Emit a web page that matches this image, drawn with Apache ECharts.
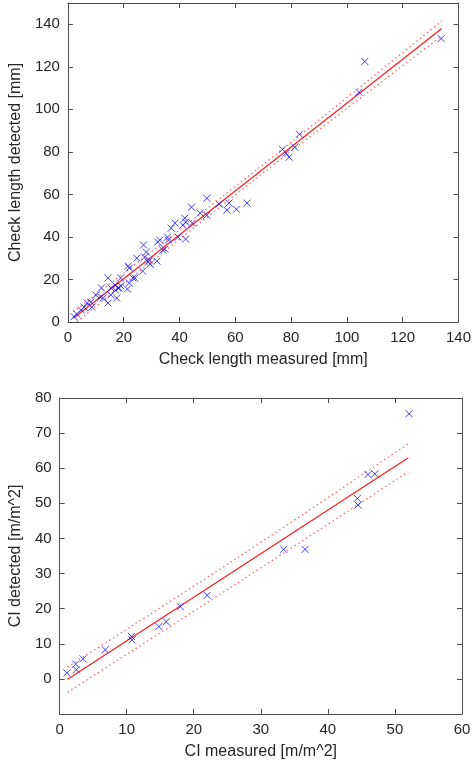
<!DOCTYPE html>
<html><head><meta charset="utf-8">
<script src="https://cdn.jsdelivr.net/npm/echarts@6/dist/echarts.min.js"></script>
<style>html,body{margin:0;padding:0;background:#fff}#c{width:474px;height:764px}</style>
</head><body><div id="c"></div>
<script>
// Top plot: check length
const checkMeasured = [133.8,106.4,104.3,83,81.3,76.9,78.2,79.3,64.2,60.4,57,57.7,54.2,49.8,49.8,47.4,44.3,44.6,42.2,41.9,42.2,41.2,39.5,38.4,37,35.7,36,34.7,34,32.9,32.2,31.9,29.5,29.2,28.8,28.1,27.5,27.1,26.8,24.7,24,23.3,22,21.6,21.3,22,18.9,18.2,17.5,15.4,14.4,14.4,12.7,12,11.7,10,8.6,8.2,6.9,5.8,4.8,3.1,18,19,17,15.4,16.8,2.2];
const checkDetected = [133.3,122.5,108,88.3,82.2,81.2,79.4,77.5,55.9,53,52.6,55.9,55.4,58.2,50.2,51.2,54,46.5,39,48.8,47,45.5,39.9,46.5,44.1,39.9,38.5,34.3,33.8,38.5,37.6,28.6,27.2,29.1,28.2,32.9,30.5,36.2,23.9,30,20.7,20.7,18.3,26.3,15.5,25.4,20.7,16,11.3,12.7,20.7,8.9,11.3,16,11.7,12.7,7,9.4,8.9,7,5.6,3.8,16,17,15,16,17.4,2.5];
const checkFitX = [2,134];
const checkFitY = [1.8,138];
const checkBandX = [2,68,134];
const checkUpper = [4.8,72,141.5];
const checkLower = [-1.2,68,134.5];
// Bottom plot: CI
const ciMeasured = [1.1,2.4,2.5,3.5,6.8,10.7,10.8,14.8,15.9,18.0,22.0,33.4,36.6,44.4,44.5,46.0,47.0,52.1];
const ciDetected = [1.7,4.2,2.6,5.7,8.3,12.1,11.1,14.9,16.3,20.6,23.8,36.9,36.9,51.4,49.5,58.2,58.4,75.5];
const ciFitX = [1.2,52];
const ciFitY = [-0.1,63];
const ciBandX = [1.2,26.6,52];
const ciUpper = [3.4,34.6,67];
const ciLower = [-3.8,27.4,59];

const zip=(a,b)=>a.map((v,i)=>[v,b[i]]);
const font='Liberation Sans, Arial, sans-serif';
const lab={color:'#262626',fontSize:15,fontFamily:font};
const cross='path://M0,0L10,10M10,0L0,10';
function axes(gi,min,max,interval,name,isX,hideFirst){
  const base={gridIndex:gi,type:'value',min,max,interval,
    axisLine:{show:true,onZero:false,lineStyle:{color:'#4d4d4d'}},
    axisTick:{inside:true,length:5,lineStyle:{color:'#4d4d4d'}},
    splitLine:{show:false}};
  const main=Object.assign({},base,{name,nameLocation:'middle',nameGap:isX?30:34,
    nameTextStyle:{color:'#262626',fontSize:16,fontFamily:font},
    axisLabel:Object.assign({},lab,{showMaxLabel:!(max%interval),margin:8,
      formatter:v=>(hideFirst&&v===min)?'':String(v)})});
  const mirror=Object.assign({},base,{position:isX?'top':'right',axisLabel:{show:false}});
  return [main,mirror];
}
const xa=[...axes(0,0,140,20,'Check length measured [mm]',true),...axes(1,0,60,10,'CI measured [m/m^2]',true)];
const ya=[...axes(0,0,150,20,'Check length detected [mm]',false),...axes(1,-10,80,10,'CI detected [m/m^2]',false,true)];
ya[0].axisLabel.showMaxLabel=false;
function sc(xi,yi,d){return {type:'scatter',xAxisIndex:xi,yAxisIndex:yi,data:d,symbol:cross,symbolSize:7,
  itemStyle:{color:'rgba(0,0,0,0)',borderColor:'#1010ff',borderWidth:1},silent:true,z:3};}
function ln(xi,yi,d,dotted,smooth){return {type:'line',xAxisIndex:xi,yAxisIndex:yi,data:d,showSymbol:false,smooth:smooth?0.4:false,
  lineStyle:{color:dotted?'#ff6060':'#ff2020',width:dotted?1.2:1.3,type:dotted?[1.5,3]:'solid'},silent:true,z:2};}
const chart=echarts.init(document.getElementById('c'));
chart.setOption({
  animation:false,
  grid:[{left:53,right:13,top:3,height:319},{left:54,right:12,top:398,height:316}],
  xAxis:xa,yAxis:ya,
  series:[
    ln(0,0,zip(checkFitX,checkFitY)),
    ln(0,0,zip(checkBandX,checkUpper),true,true),
    ln(0,0,zip(checkBandX,checkLower),true,true),
    sc(0,0,zip(checkMeasured,checkDetected)),
    ln(2,2,zip(ciFitX,ciFitY)),
    ln(2,2,zip(ciBandX,ciUpper),true,true),
    ln(2,2,zip(ciBandX,ciLower),true,true),
    sc(2,2,zip(ciMeasured,ciDetected))
  ]
});
</script></body></html>
